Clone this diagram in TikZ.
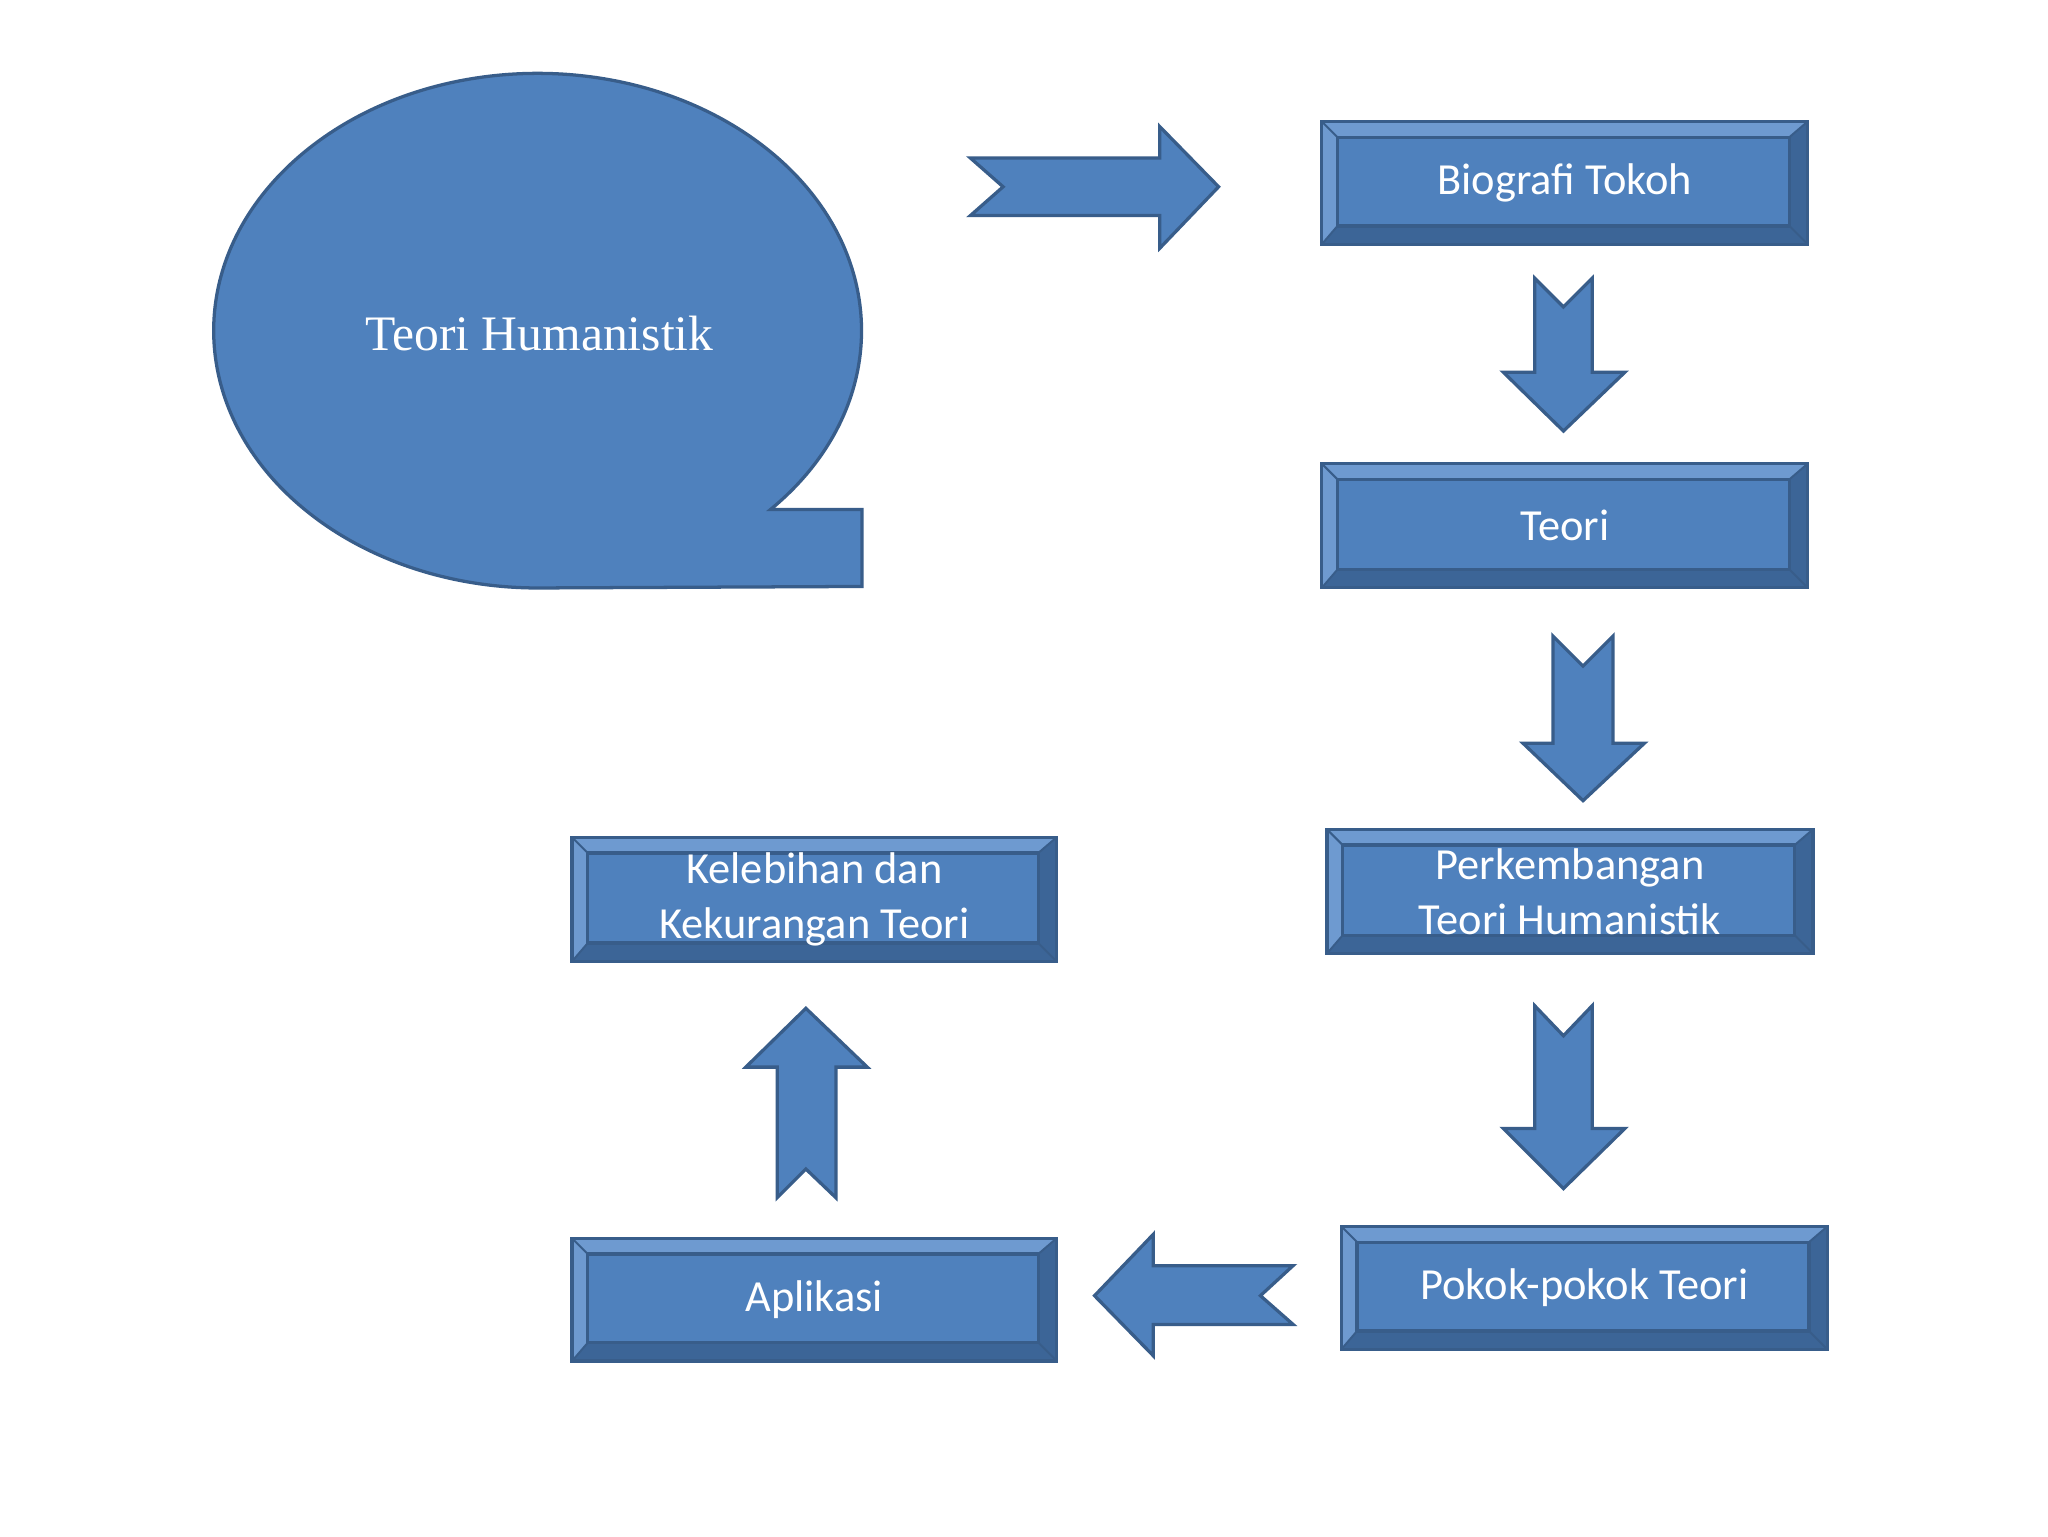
\documentclass[tikz,border=0pt]{standalone}
\usepackage{fontspec}
\setmainfont{Liberation Serif}
\newfontfamily\boxfont{Carlito}
\definecolor{fillb}{HTML}{4F81BD}
\definecolor{edgeb}{HTML}{385D8A}
\definecolor{darkb}{HTML}{3C6597}
\definecolor{lightb}{HTML}{6E9AD0}
\tikzset{
  shp/.style={fill=fillb,draw=edgeb,line width=2.5pt,line join=miter},
  lbl/.style={text=white,font=\boxfont\fontsize{34}{42}\selectfont,align=center}
}
\newcommand{\bevbox}[6]{%
  \fill[darkb] (#2,#3) rectangle (#4,#5);
  \fill[lightb] (#2,#3) -- (#4,#3) -- ({#4-14},{#3+12}) -- ({#2+12},{#3+12}) -- ({#2+12},{#5-14}) -- (#2,#5) -- cycle;
  \draw[shp] ({#2+12},{#3+12}) rectangle ({#4-14},{#5-14});
  \draw[edgeb,line width=1.5pt] (#2,#3) -- ({#2+12},{#3+12}) (#4,#3) -- ({#4-14},{#3+12}) (#2,#5) -- ({#2+12},{#5-14}) (#4,#5) -- ({#4-14},{#5-14});
  \draw[edgeb,line width=2.5pt] (#2,#3) rectangle (#4,#5);
  \node[lbl] (#1) at ({(#2+#4)/2},{(#3+#5)/2}) {#6};}
\begin{document}
\begin{tikzpicture}[x=1pt,y=-1pt]
\useasboundingbox[fill=white] (0,0) rectangle (1568,1176);
% speech bubble
\draw[shp] (590,390) arc[x radius=248,y radius=197,start angle=44,end angle=-270] -- (660,449) -- (660,390) -- cycle;
\node[text=white,font=\fontsize{38}{44}\selectfont] (th) at (413,255) {Teori Humanistik};
% boxes
\bevbox{bio}{1012}{93}{1384}{187}{Biografi Tokoh}
\bevbox{teori}{1012}{355}{1384}{450}{Teori}
\bevbox{perk}{1016}{635}{1388}{730}{Perkembangan\\Teori Humanistik}
\bevbox{kel}{438}{641}{809}{736}{Kelebihan dan\\Kekurangan Teori}
\bevbox{apl}{438}{948}{809}{1042}{Aplikasi}
\bevbox{pok}{1027}{939}{1399}{1033}{Pokok-pokok Teori}
% arrows
\draw[shp] (743,121) -- (888,121) -- (888,97) -- (933,143) -- (888,190) -- (888,165) -- (743,165) -- (768,143) -- cycle;
\draw[shp] (1175,213) -- (1197,235) -- (1219,213) -- (1219,285) -- (1244,285) -- (1197,330) -- (1151,285) -- (1175,285) -- cycle;
\draw[shp] (1189,487) -- (1212,510) -- (1235,487) -- (1235,569) -- (1259,569) -- (1212,613) -- (1166,569) -- (1189,569) -- cycle;
\draw[shp] (1175,770) -- (1197,793) -- (1219,770) -- (1219,864) -- (1244,864) -- (1197,910) -- (1151,864) -- (1175,864) -- cycle;
\draw[shp] (990,969) -- (965,992) -- (990,1014) -- (883,1014) -- (883,1038) -- (838,992) -- (883,945) -- (883,969) -- cycle;
\draw[shp] (595,917) -- (617,895) -- (640,917) -- (640,817) -- (664,817) -- (617,772) -- (571,817) -- (595,817) -- cycle;
\end{tikzpicture}
\end{document}
